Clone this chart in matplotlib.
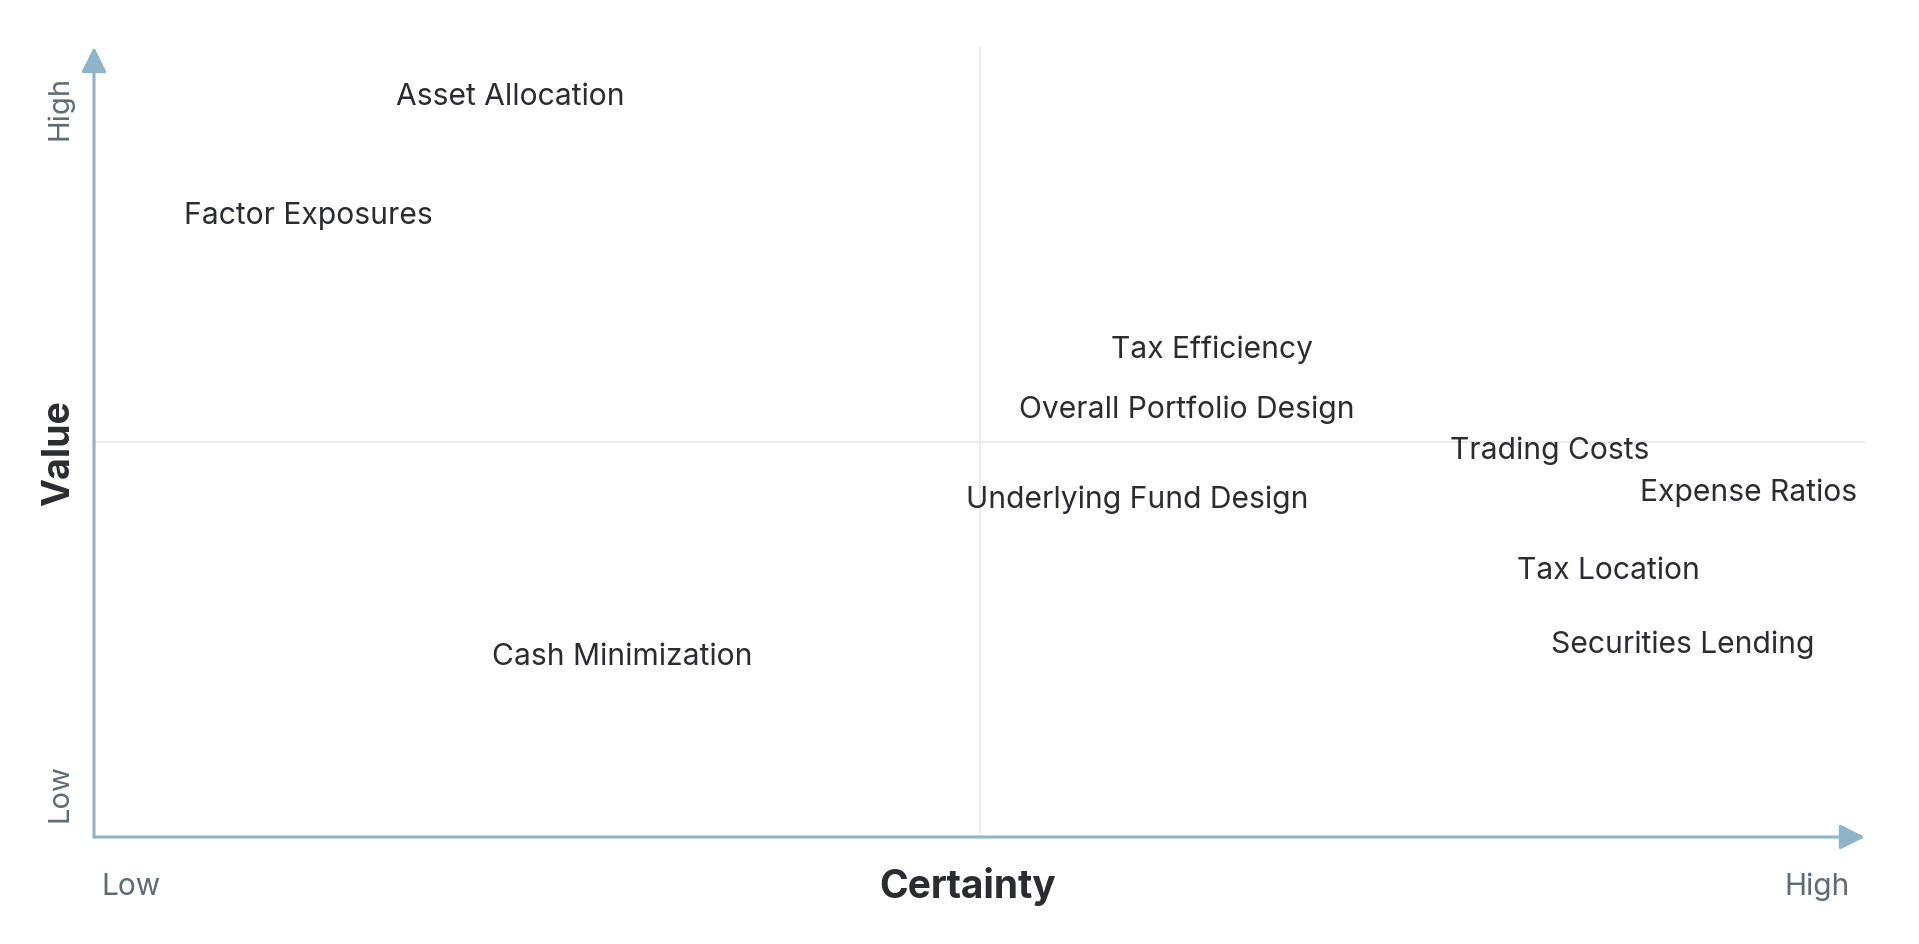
import matplotlib
matplotlib.use("Agg")
import matplotlib.pyplot as plt
from matplotlib import transforms

# Data (certainty = x, value = y), on a 0-100 scale
labels = ["Asset Allocation", "Factor Exposures", "Tax Efficiency",
          "Overall Portfolio Design", "Trading Costs", "Underlying Fund Design",
          "Expense Ratios", "Tax Location", "Securities Lending", "Cash Minimization"]
certainty = [23.5, 12.1, 63.1, 61.7, 82.2, 58.9, 93.4, 85.5, 89.7, 29.8]
value = [94.2, 79.2, 62.3, 54.7, 49.5, 43.3, 44.1, 34.3, 24.9, 23.3]

x_label = "Certainty"
y_label = "Value"
low_text = "Low"
high_text = "High"

W, H = 1919, 945
fig = plt.figure(figsize=(W / 100, H / 100), dpi=100)
fig.patch.set_facecolor("white")

left, right, top, bottom = 94, 1865, 48, 838
ax = fig.add_axes([left / W, (H - bottom) / H, (right - left) / W, (bottom - top) / H])
ax.set_xlim(0, 100)
ax.set_ylim(0, 100)
ax.axis("off")

axis_color = "#8db4c9"
grid_color = "#ececec"
text_color = "#2a2c30"
muted = "#5e6a74"
font = "Inter"

ax.axvline(50, color=grid_color, lw=1.5, zorder=0)
ax.axhline(50, color=grid_color, lw=1.5, zorder=0)

arrow = dict(arrowstyle="-|>,head_length=0.9,head_width=0.45", color=axis_color,
             lw=2.2, mutation_scale=17, shrinkA=0, shrinkB=0)
ax.annotate("", xy=(0, 1.0), xytext=(0, 0), xycoords="axes fraction",
            textcoords="axes fraction", arrowprops=arrow, annotation_clip=False)
ax.annotate("", xy=(1.0, 0), xytext=(0, 0), xycoords="axes fraction",
            textcoords="axes fraction", arrowprops=arrow, annotation_clip=False)

shifted = transforms.offset_copy(ax.transData, fig=fig, x=0, y=-3.5, units="dots")
for lab, cx, vy in zip(labels, certainty, value):
    ax.text(cx, vy, lab, ha="center", va="center", fontsize=21.6, family=font,
            color=text_color, transform=shifted)

# Axis titles
fig.text(968 / W, 1 - 887 / H, x_label, ha="center", va="center", fontsize=28,
         fontweight="bold", family=font, color=text_color)
fig.text(59 / W, 1 - 453 / H, y_label, ha="center", va="center", fontsize=27,
         fontweight="bold", family=font, color=text_color, rotation=90)

# Low / High markers
fig.text(131 / W, 1 - 887 / H, low_text, ha="center", va="center", fontsize=21.5,
         family=font, color=muted)
fig.text(1817 / W, 1 - 887 / H, high_text, ha="center", va="center", fontsize=21.5,
         family=font, color=muted)
fig.text(60 / W, 1 - 793 / H, low_text, ha="center", va="center", fontsize=21,
         family=font, color=muted, rotation=90)
fig.text(60 / W, 1 - 108 / H, high_text, ha="center", va="center", fontsize=21,
         family=font, color=muted, rotation=90)

fig.savefig("out.png", dpi=100, facecolor="white")
